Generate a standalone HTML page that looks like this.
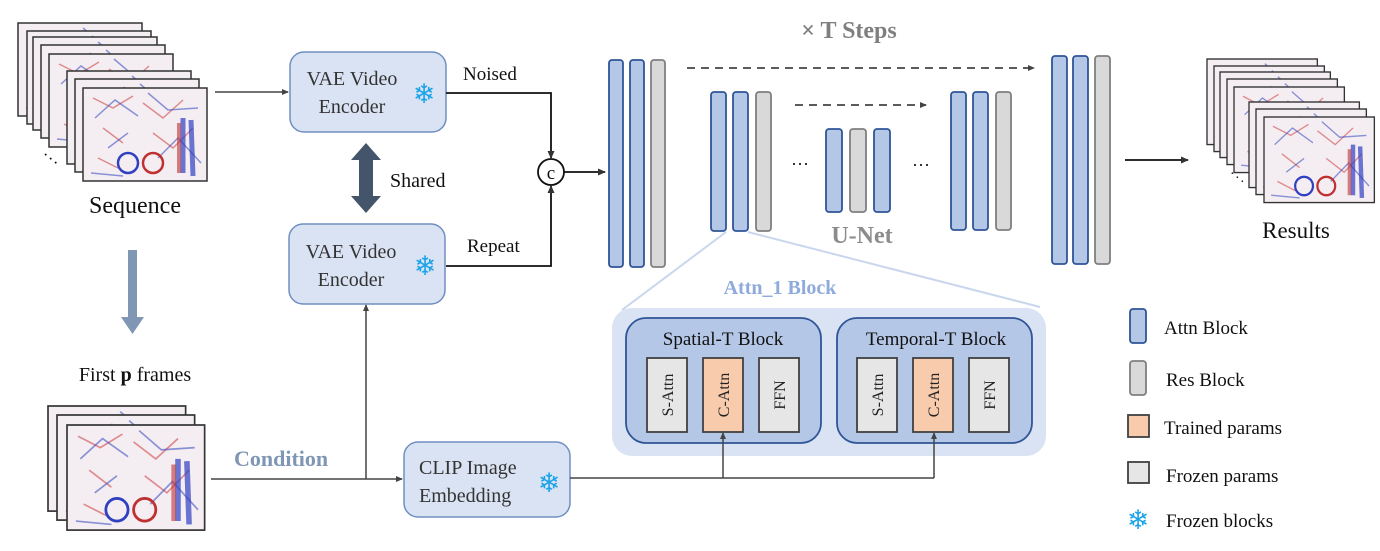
<!DOCTYPE html>
<html><head><meta charset="utf-8">
<style>
html,body{margin:0;padding:0;background:#fff;}
svg{display:block;}
text{font-family:"Liberation Serif",serif;}
.sf{font-family:"DejaVu Sans",sans-serif;fill:#1aa3e8;font-weight:bold;}
</style></head>
<body>
<svg width="1380" height="551" viewBox="0 0 1380 551" xmlns="http://www.w3.org/2000/svg">
<defs>
<marker id="ah" markerWidth="8" markerHeight="8" refX="7" refY="4" orient="auto" markerUnits="userSpaceOnUse">
<path d="M0,0.5 L8,4 L0,7.5 Z" fill="#333"/>
</marker>
<marker id="ahs" markerWidth="7" markerHeight="7" refX="6" refY="3.5" orient="auto" markerUnits="userSpaceOnUse">
<path d="M0,0.5 L7,3.5 L0,6.5 Z" fill="#444"/>
</marker>
<g id="fr">
<rect x="0" y="0" width="124" height="93" fill="#f4eef3" stroke="#333" stroke-width="1.5"/>
<path d="M10,10 L30,20 L50,8 M60,15 L80,30 L100,12 M20,40 L40,55 M70,45 L90,60 L110,40 M15,70 L35,80" stroke="#d04848" stroke-width="1.5" fill="none" opacity="0.6"/>
<path d="M12,30 L32,12 L55,28 M65,5 L85,22 L115,20 M25,60 L45,45 M75,70 L95,50 L118,75 M8,85 L40,88" stroke="#4050c0" stroke-width="1.5" fill="none" opacity="0.6"/>
<circle cx="45" cy="75" r="10" fill="none" stroke="#3040c0" stroke-width="2.5"/>
<circle cx="70" cy="75" r="10" fill="none" stroke="#c03030" stroke-width="2.5"/>
<path d="M100,30 L100,85 M108,32 L110,88" stroke="#3040c0" stroke-width="5" opacity="0.7"/>
<path d="M96,35 L96,85" stroke="#c03030" stroke-width="4" opacity="0.6"/>
</g>
</defs>

<!-- Sequence stack -->
<use href="#fr" x="18" y="23"/>
<use href="#fr" x="27" y="31"/>
<use href="#fr" x="33" y="37"/>
<use href="#fr" x="41" y="45"/>
<use href="#fr" x="49" y="54"/>
<use href="#fr" x="67" y="71"/>
<use href="#fr" x="75" y="79"/>
<use href="#fr" x="83" y="88"/>
<text x="43" y="160" font-size="16">·</text><text x="48" y="164" font-size="16">·</text><text x="53" y="168" font-size="16">·</text>
<text x="135" y="213" font-size="24" text-anchor="middle" fill="#111">Sequence</text>

<!-- down arrow -->
<rect x="128" y="250" width="9" height="68" fill="#7f96b5"/>
<path d="M121,317 L144,317 L132.5,334 Z" fill="#7f96b5"/>
<text x="135" y="381" font-size="20" text-anchor="middle" fill="#111">First <tspan font-weight="bold">p</tspan> frames</text>

<!-- First frames -->
<g transform="translate(48,406) scale(1.11,1.13)"><use href="#fr"/></g>
<g transform="translate(57,415) scale(1.11,1.13)"><use href="#fr"/></g>
<g transform="translate(67,425) scale(1.11,1.13)"><use href="#fr"/></g>

<text x="234" y="466" font-size="22" font-weight="bold" fill="#7f96b5">Condition</text>
<line x1="211" y1="479" x2="402" y2="479" stroke="#444" stroke-width="1.5" marker-end="url(#ahs)"/>
<line x1="366" y1="479" x2="366" y2="305" stroke="#444" stroke-width="1.5" marker-end="url(#ahs)"/>

<!-- arrow seq -> VAE -->
<line x1="215" y1="92" x2="288" y2="92" stroke="#444" stroke-width="1.5" marker-end="url(#ahs)"/>

<!-- VAE boxes -->
<rect x="290" y="52" width="156" height="80" rx="14" fill="#dae3f3" stroke="#6f8fc0" stroke-width="1.5"/>
<text x="352" y="85" font-size="20" text-anchor="middle" fill="#333">VAE Video</text>
<text x="352" y="113" font-size="20" text-anchor="middle" fill="#333">Encoder</text>
<text x="424" y="103" font-size="27" text-anchor="middle" class="sf">❄</text>

<rect x="289" y="224" width="156" height="80" rx="14" fill="#dae3f3" stroke="#6f8fc0" stroke-width="1.5"/>
<text x="351" y="258" font-size="20" text-anchor="middle" fill="#333">VAE Video</text>
<text x="351" y="286" font-size="20" text-anchor="middle" fill="#333">Encoder</text>
<text x="425" y="275" font-size="27" text-anchor="middle" class="sf">❄</text>

<!-- Shared -->
<path d="M366,143 L381,160 L373,160 L373,196 L381,196 L366,213 L351,196 L359,196 L359,160 L351,160 Z" fill="#44546a"/>
<text x="390" y="187" font-size="20" fill="#111">Shared</text>

<!-- Noised / Repeat -->
<text x="463" y="80" font-size="19" fill="#111">Noised</text>
<text x="467" y="252" font-size="19" fill="#111">Repeat</text>
<polyline points="446,93 551,93 551,158" fill="none" stroke="#111" stroke-width="1.8" marker-end="url(#ah)"/>
<polyline points="446,266 551,266 551,186" fill="none" stroke="#111" stroke-width="1.8" marker-end="url(#ah)"/>
<circle cx="551" cy="172" r="13" fill="#fff" stroke="#111" stroke-width="1.8"/>
<text x="551" y="179" font-size="19" text-anchor="middle" fill="#111">c</text>
<line x1="564" y1="172" x2="605" y2="172" stroke="#111" stroke-width="1.8" marker-end="url(#ah)"/>

<!-- UNet blocks -->
<g stroke-width="1.8">
<rect x="609" y="60" width="14" height="207" rx="3" fill="#b4c7e7" stroke="#2f5597"/>
<rect x="630" y="60" width="14" height="207" rx="3" fill="#b4c7e7" stroke="#2f5597"/>
<rect x="651" y="60" width="14" height="207" rx="3" fill="#d9d9d9" stroke="#7f7f7f"/>

<rect x="711" y="92" width="15" height="139" rx="3" fill="#b4c7e7" stroke="#2f5597"/>
<rect x="733" y="92" width="15" height="139" rx="3" fill="#b4c7e7" stroke="#2f5597"/>
<rect x="756" y="92" width="15" height="139" rx="3" fill="#d9d9d9" stroke="#7f7f7f"/>

<rect x="826" y="129" width="16" height="83" rx="3" fill="#b4c7e7" stroke="#2f5597"/>
<rect x="850" y="129" width="16" height="83" rx="3" fill="#d9d9d9" stroke="#7f7f7f"/>
<rect x="874" y="129" width="16" height="83" rx="3" fill="#b4c7e7" stroke="#2f5597"/>

<rect x="951" y="92" width="15" height="138" rx="3" fill="#b4c7e7" stroke="#2f5597"/>
<rect x="973" y="92" width="15" height="138" rx="3" fill="#b4c7e7" stroke="#2f5597"/>
<rect x="996" y="92" width="15" height="138" rx="3" fill="#d9d9d9" stroke="#7f7f7f"/>

<rect x="1052" y="56" width="15" height="208" rx="3" fill="#b4c7e7" stroke="#2f5597"/>
<rect x="1073" y="56" width="15" height="208" rx="3" fill="#b4c7e7" stroke="#2f5597"/>
<rect x="1095" y="56" width="15" height="208" rx="3" fill="#d9d9d9" stroke="#7f7f7f"/>
</g>
<line x1="687" y1="68" x2="1034" y2="68" stroke="#444" stroke-width="1.8" stroke-dasharray="8,6" marker-end="url(#ahs)"/>
<line x1="795" y1="105" x2="926" y2="105" stroke="#444" stroke-width="1.8" stroke-dasharray="8,6" marker-end="url(#ahs)"/>
<text x="849" y="38" font-size="24" font-weight="bold" text-anchor="middle" fill="#7f7f7f">× T Steps</text>
<text x="800" y="170" font-size="18" text-anchor="middle" fill="#111">···</text>
<text x="921" y="171" font-size="18" text-anchor="middle" fill="#111">···</text>
<text x="862" y="243" font-size="24" font-weight="bold" text-anchor="middle" fill="#8c8c8c">U-Net</text>

<line x1="1125" y1="160" x2="1188" y2="160" stroke="#111" stroke-width="1.8" marker-end="url(#ah)"/>

<!-- Results -->
<g transform="translate(1207,59) scale(0.89,0.92)"><use href="#fr"/></g>
<g transform="translate(1214,66) scale(0.89,0.92)"><use href="#fr"/></g>
<g transform="translate(1220,72) scale(0.89,0.92)"><use href="#fr"/></g>
<g transform="translate(1227,79) scale(0.89,0.92)"><use href="#fr"/></g>
<g transform="translate(1234,87) scale(0.89,0.92)"><use href="#fr"/></g>
<g transform="translate(1249,102) scale(0.89,0.92)"><use href="#fr"/></g>
<g transform="translate(1256,109) scale(0.89,0.92)"><use href="#fr"/></g>
<g transform="translate(1264,117) scale(0.89,0.92)"><use href="#fr"/></g>
<text x="1230" y="178" font-size="14">·</text><text x="1235" y="182" font-size="14">·</text><text x="1240" y="186" font-size="14">·</text>
<text x="1296" y="238" font-size="23" text-anchor="middle" fill="#111">Results</text>

<!-- Attn block zoom -->
<line x1="726" y1="232" x2="622" y2="310" stroke="#c9d6ee" stroke-width="2"/>
<line x1="748" y1="232" x2="1040" y2="307" stroke="#c9d6ee" stroke-width="2"/>
<text x="780" y="294" font-size="20" font-weight="bold" text-anchor="middle" fill="#8faadc">Attn_1 Block</text>
<rect x="612" y="308" width="434" height="148" rx="20" fill="#dae3f3"/>

<rect x="626" y="318" width="195" height="125" rx="20" fill="#b4c7e7" stroke="#2f5597" stroke-width="1.8"/>
<text x="723" y="345" font-size="19" text-anchor="middle" fill="#111">Spatial-T Block</text>
<rect x="647" y="358" width="40" height="74" fill="#e6e6e6" stroke="#404040" stroke-width="1.8"/>
<rect x="703" y="358" width="40" height="74" fill="#f8cbad" stroke="#404040" stroke-width="1.8"/>
<rect x="759" y="358" width="40" height="74" fill="#e6e6e6" stroke="#404040" stroke-width="1.8"/>
<text transform="translate(673,395) rotate(-90)" font-size="16" text-anchor="middle" fill="#222">S-Attn</text>
<text transform="translate(729,395) rotate(-90)" font-size="16" text-anchor="middle" fill="#222">C-Attn</text>
<text transform="translate(785,395) rotate(-90)" font-size="16" text-anchor="middle" fill="#222">FFN</text>

<rect x="837" y="318" width="195" height="125" rx="20" fill="#b4c7e7" stroke="#2f5597" stroke-width="1.8"/>
<text x="936" y="345" font-size="19" text-anchor="middle" fill="#111">Temporal-T Block</text>
<rect x="857" y="358" width="40" height="74" fill="#e6e6e6" stroke="#404040" stroke-width="1.8"/>
<rect x="913" y="358" width="40" height="74" fill="#f8cbad" stroke="#404040" stroke-width="1.8"/>
<rect x="969" y="358" width="40" height="74" fill="#e6e6e6" stroke="#404040" stroke-width="1.8"/>
<text transform="translate(883,395) rotate(-90)" font-size="16" text-anchor="middle" fill="#222">S-Attn</text>
<text transform="translate(939,395) rotate(-90)" font-size="16" text-anchor="middle" fill="#222">C-Attn</text>
<text transform="translate(995,395) rotate(-90)" font-size="16" text-anchor="middle" fill="#222">FFN</text>

<!-- CLIP -->
<rect x="404" y="442" width="166" height="75" rx="14" fill="#dae3f3" stroke="#6f8fc0" stroke-width="1.5"/>
<text x="419" y="474" font-size="20" fill="#333">CLIP Image</text>
<text x="419" y="502" font-size="20" fill="#333">Embedding</text>
<text x="549" y="492" font-size="27" text-anchor="middle" class="sf">❄</text>
<polyline points="570,478 934,478" fill="none" stroke="#444" stroke-width="1.5"/>
<line x1="723" y1="478" x2="723" y2="433" stroke="#444" stroke-width="1.5" marker-end="url(#ahs)"/>
<line x1="934" y1="478" x2="934" y2="433" stroke="#444" stroke-width="1.5" marker-end="url(#ahs)"/>

<!-- Legend -->
<rect x="1130" y="309" width="16" height="34" rx="3" fill="#b4c7e7" stroke="#2f5597" stroke-width="1.8"/>
<text x="1164" y="334" font-size="19" fill="#111">Attn Block</text>
<rect x="1130" y="361" width="16" height="34" rx="3" fill="#d9d9d9" stroke="#7f7f7f" stroke-width="1.8"/>
<text x="1166" y="386" font-size="19" fill="#111">Res Block</text>
<rect x="1128" y="415" width="21" height="22" fill="#f8cbad" stroke="#404040" stroke-width="1.8"/>
<text x="1164" y="434" font-size="19" fill="#111">Trained params</text>
<rect x="1128" y="462" width="21" height="21" fill="#e6e6e6" stroke="#404040" stroke-width="1.8"/>
<text x="1166" y="482" font-size="19" fill="#111">Frozen params</text>
<text x="1138" y="529" font-size="27" text-anchor="middle" class="sf">❄</text>
<text x="1166" y="527" font-size="19" fill="#111">Frozen blocks</text>
</svg>
</body></html>
